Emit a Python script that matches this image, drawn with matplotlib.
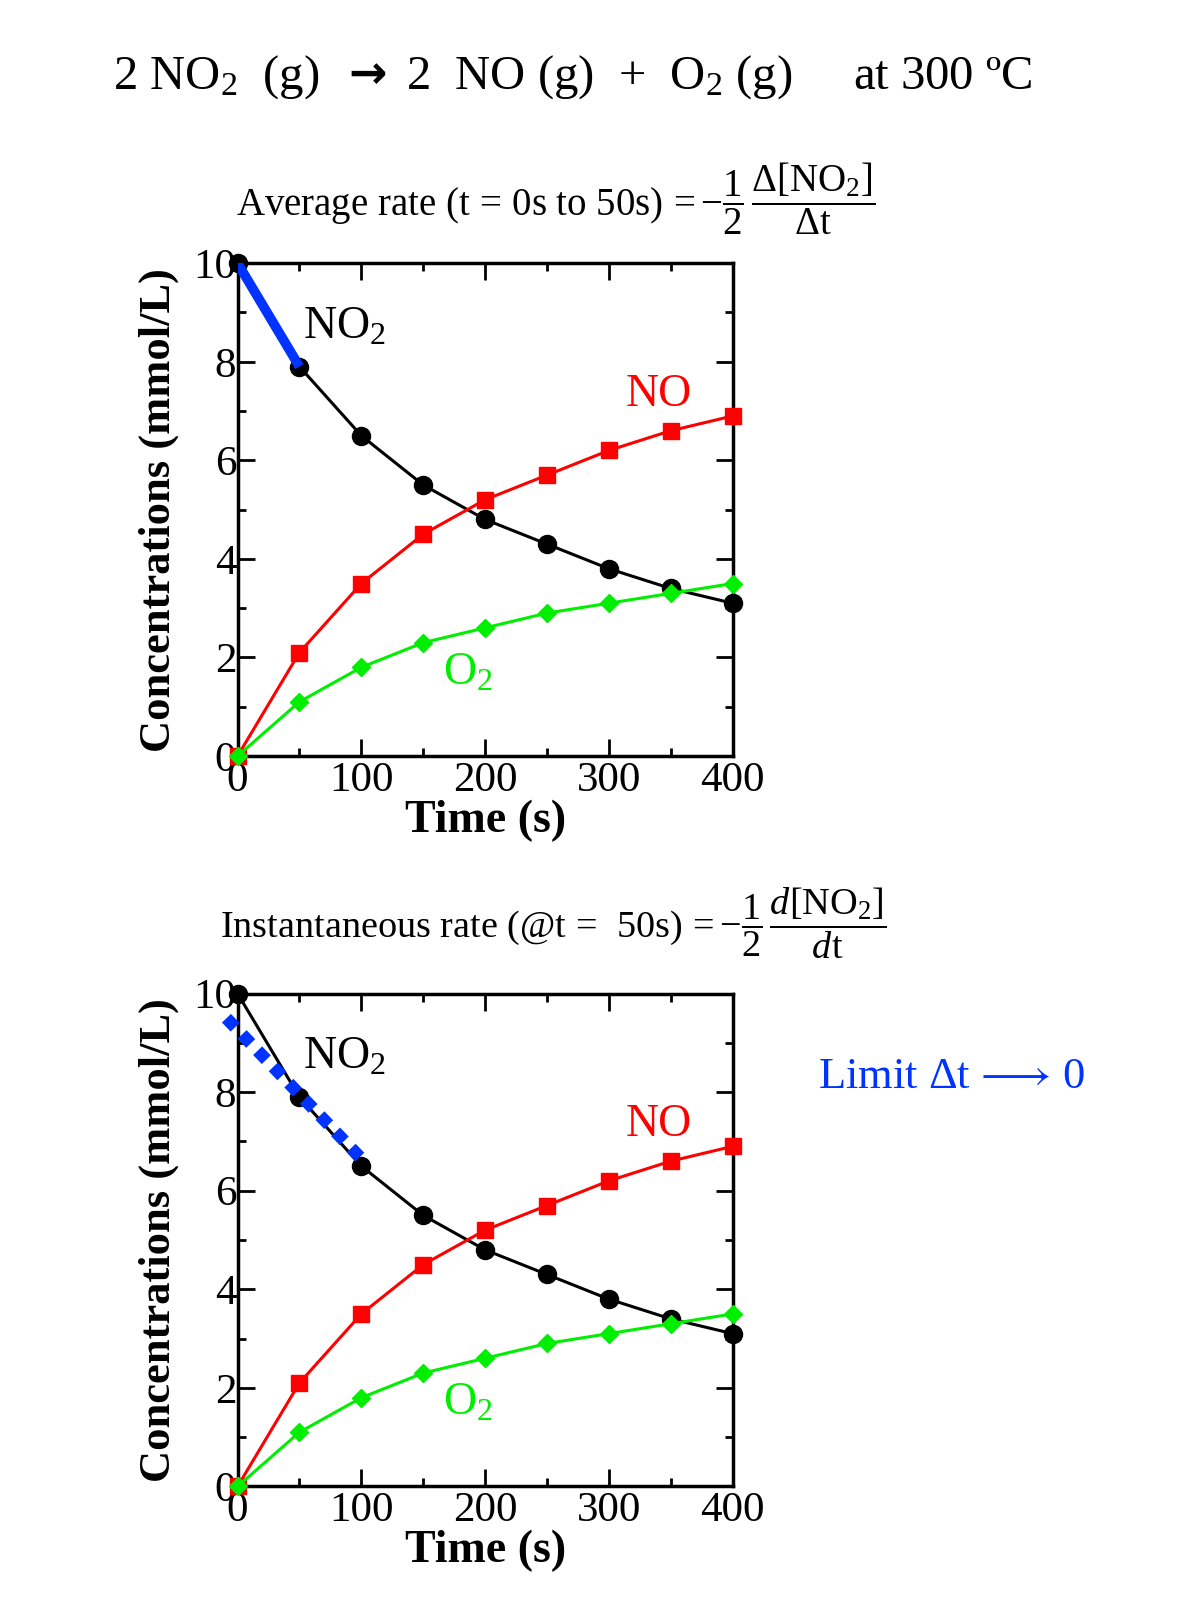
import numpy as np
import matplotlib.pyplot as plt
from matplotlib.ticker import MultipleLocator

plt.rcParams["font.family"] = ["Liberation Serif", "DejaVu Serif"]
plt.rcParams["mathtext.fontset"] = "custom"
plt.rcParams["mathtext.rm"] = "Liberation Serif"
plt.rcParams["mathtext.it"] = "Liberation Serif:italic"
plt.rcParams["mathtext.bf"] = "Liberation Serif:bold"

t = np.array([0, 50, 100, 150, 200, 250, 300, 350, 400])
no2 = np.array([10.0, 7.9, 6.5, 5.5, 4.8, 4.3, 3.8, 3.4, 3.1])
no = np.array([0.0, 2.1, 3.5, 4.5, 5.2, 5.7, 6.2, 6.6, 6.9])
o2 = np.array([0.0, 1.1, 1.8, 2.3, 2.6, 2.9, 3.1, 3.3, 3.5])

# average rate chord (0s -> 50s) and tangent at 50s
chord_t = [0, 50]
chord_c = [10.0, 7.9]
tan_t = [-9, 100]
tan_c = [9.5, 6.65]

fig = plt.figure(figsize=(12, 16), dpi=100)


def panel(rect):
    ax = fig.add_axes(rect)
    ax.plot(t, no2, "-o", color="black", lw=2.2, ms=13, zorder=3, clip_on=False)
    ax.plot(t, no, "-s", color="#ff0000", lw=2.2, ms=11.5, zorder=3, clip_on=False)
    ax.plot(t, o2, "-D", color="#00ee00", lw=2.2, ms=9, zorder=4, clip_on=False)
    ax.set_xlim(0, 400)
    ax.set_ylim(0, 10)
    ax.xaxis.set_major_locator(MultipleLocator(100))
    ax.xaxis.set_minor_locator(MultipleLocator(50))
    ax.yaxis.set_major_locator(MultipleLocator(2))
    ax.yaxis.set_minor_locator(MultipleLocator(1))
    ax.tick_params(which="both", direction="in", top=True, right=True,
                   width=2, labelsize=31)
    ax.tick_params(which="major", length=12)
    ax.tick_params(which="minor", length=6)
    ax.tick_params(axis="y", pad=1)
    ax.tick_params(axis="x", pad=4)
    for s in ax.spines.values():
        s.set_linewidth(2.5)
    ax.set_xlabel("Time (s)", fontsize=33, fontweight="bold")
    ax.set_ylabel("Concentrations (mmol/L)", fontsize=32, fontweight="bold")
    ax.xaxis.set_label_coords(0.5, -0.088)
    ax.yaxis.set_label_coords(-0.118, 0.5)
    ax.text(86, 8.7, r"NO$_2$", fontsize=33, ha="center", va="center")
    ax.text(340, 7.33, "NO", fontsize=33, color="#ff0000", ha="center", va="center")
    ax.text(186, 1.68, r"O$_2$", fontsize=33, color="#00ee00", ha="center", va="center")
    return ax


ax1 = panel([0.198, 0.5275, 0.4125, 0.308])
ax1.plot(chord_t, chord_c, "-", color="#0033ff", lw=7, solid_capstyle="butt", zorder=5)

ax2 = panel([0.198, 0.071, 0.4125, 0.308])
ax2.plot(tan_t, tan_c, color="#0033ff", lw=9, linestyle=(0, (1.0, 0.8)),
         dash_capstyle="butt", clip_on=False, zorder=5)

# reaction title in three pieces so the arrow can be heavier
fig.text(0.266, 0.952, r"2 NO$_2$  (g)", fontsize=35, ha="right", va="center")
fig.text(0.306, 0.953, "→", fontsize=33, fontweight="bold", family="DejaVu Sans",
         ha="center", va="center")
fig.text(0.338, 0.952, r"2  NO (g)  +  O$_2$ (g)     at 300 ºC",
         fontsize=35, ha="left", va="center")

fig.text(0.463, 0.876,
         r"Average rate (t$\,=\,$0s to 50s)$\,=-\dfrac{1}{2}\,\dfrac{\Delta[\mathrm{NO_2}]}{\Delta\mathrm{t}}$",
         fontsize=28, ha="center", va="center")
fig.text(0.461, 0.423,
         r"Instantaneous rate (@t$\,=\,$ 50s)$\,=-\dfrac{1}{2}\,\dfrac{d[\mathrm{NO_2}]}{d\mathrm{t}}$",
         fontsize=27.5, ha="center", va="center")
fig.text(0.793, 0.327, r"Limit $\Delta$t$\,\longrightarrow\,$0", fontsize=32,
         color="#0033ff", ha="center", va="center")

fig.savefig("out.png", dpi=100)
